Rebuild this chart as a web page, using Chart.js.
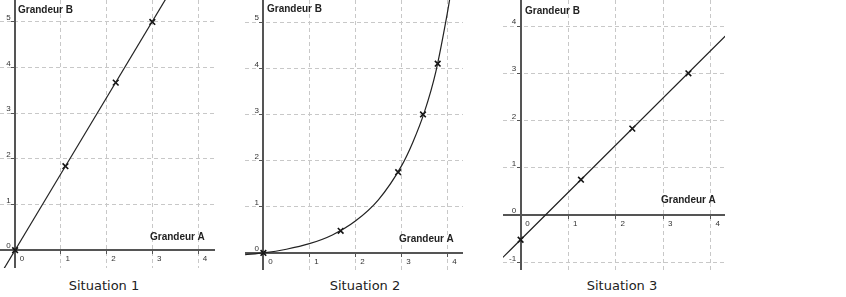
<!DOCTYPE html>
<html>
<head>
<meta charset="utf-8">
<script src="https://cdn.jsdelivr.net/npm/chart.js@4.4.0/dist/chart.umd.min.js"></script>
<style>
    body { margin: 0; background: #fff; width: 846px; height: 297px; position: relative; overflow: hidden; }
    canvas { position: absolute; top: 0; }
    .nom { position: absolute; font: bold 10px "Liberation Sans", Arial, sans-serif; color: #222; white-space: nowrap; }
    .legende { position: absolute; top: 278px; width: 160px; text-align: center; font: 13px "DejaVu Sans", sans-serif; color: #222; }
</style>
</head>
<body>
<canvas id="situation1" width="215" height="268" style="left:0px"></canvas>
<canvas id="situation2" width="218" height="270" style="left:245px"></canvas>
<canvas id="situation3" width="222" height="270" style="left:503px"></canvas>

<div class="nom" style="left:18px;top:4px">Grandeur B</div>
<div class="nom" style="left:150px;top:231px">Grandeur A</div>
<div class="nom" style="left:267px;top:3px">Grandeur B</div>
<div class="nom" style="left:399px;top:233px">Grandeur A</div>
<div class="nom" style="left:525px;top:5px">Grandeur B</div>
<div class="nom" style="left:661px;top:194px">Grandeur A</div>

<div class="legende" style="left:24px">Situation 1</div>
<div class="legende" style="left:285px">Situation 2</div>
<div class="legende" style="left:542px">Situation 3</div>

<script>
// Situation 1 : proportionnalité
const axeX1 = [-0.33, 4.37]
const axeY1 = [-0.39, 5.48]
const droite1X = [-0.3, 3.4]
const droite1Y = [-0.5, 5.68]
const mesures1X = [0, 1.1, 2.2, 3.0]
const mesures1Y = [0, 1.84, 3.67, 5.0]

// Situation 2 : courbe
const axeX2 = [-0.4, 4.34]
const axeY2 = [-0.37, 5.48]
const courbe2X = [-0.4, 0, 0.5, 1, 1.5, 2, 2.5, 3, 3.25, 3.5, 3.75, 4, 4.1]
const courbe2Y = [-0.04, 0, 0.08, 0.2, 0.39, 0.69, 1.15, 1.88, 2.4, 3.05, 3.93, 5.2, 5.8]
const mesures2X = [0, 1.68, 2.93, 3.47, 3.79]
const mesures2Y = [0, 0.48, 1.75, 3.0, 4.1]

// Situation 3 : droite ne passant pas par l'origine
const axeX3 = [-0.37, 4.3]
const axeY3 = [-1.16, 4.55]
const droite3X = [-0.5, 4.5]
const droite3Y = [-1.02, 3.98]
const mesures3X = [0, 1.27, 2.35, 3.53]
const mesures3Y = [-0.52, 0.75, 1.83, 3.0]

const pts = (xs, ys) => xs.map((x, i) => ({x: x, y: ys[i]}))

function axe(range, position, isX) {
    return {
        type: 'linear',
        min: range[0],
        max: range[1],
        position: position,
        grid: {
            color: '#c8c8c8',
            lineWidth: 1,
            tickLength: 3,
            tickColor: '#555',
            tickWidth: 1
        },
        border: {
            color: '#555',
            width: 2,
            dash: [4, 3]
        },
        ticks: {
            stepSize: 1,
            includeBounds: false,
            autoSkip: false,
            maxRotation: 0,
            minRotation: 0,
            padding: 1,
            labelOffset: isX ? 7 : -4,
            color: '#333',
            font: {family: 'Liberation Sans', size: 8},
            // un peu d'air entre les graduations et l'axe vertical
            callback: (v) => isX ? String(v) : v + '\u00a0\u00a0'
        },
        afterFit: (s) => {
            s.paddingLeft = s.paddingRight = s.paddingTop = s.paddingBottom = 0
        }
    }
}

function graphe(id, ax, ay, trace, mesures) {
    new Chart(document.getElementById(id), {
        type: 'scatter',
        data: {
            datasets: [{
                data: trace,
                showLine: true,
                pointRadius: 0,
                borderColor: '#222',
                borderWidth: 1.2,
                cubicInterpolationMode: 'monotone'
            }, {
                data: mesures,
                pointStyle: 'crossRot',
                pointRadius: 4,
                pointBorderWidth: 1.6,
                pointBorderColor: '#111',
                pointBackgroundColor: '#111'
            }]
        },
        options: {
            responsive: false,
            animation: false,
            layout: {padding: 0, autoPadding: false},
            plugins: {legend: {display: false}, tooltip: {enabled: false}},
            scales: {
                x: axe(ax, {y: 0}, true),
                y: axe(ay, {x: 0}, false)
            }
        }
    })
}

graphe('situation1', axeX1, axeY1, pts(droite1X, droite1Y), pts(mesures1X, mesures1Y))
graphe('situation2', axeX2, axeY2, pts(courbe2X, courbe2Y), pts(mesures2X, mesures2Y))
graphe('situation3', axeX3, axeY3, pts(droite3X, droite3Y), pts(mesures3X, mesures3Y))
</script>
</body>
</html>
